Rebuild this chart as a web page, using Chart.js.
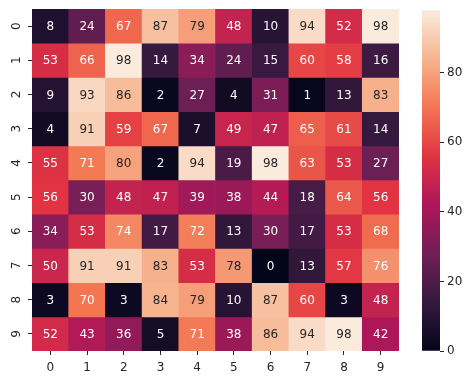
<!DOCTYPE html>
<html><head><meta charset="utf-8">
<script src="https://cdn.jsdelivr.net/npm/chart.js@4.4.1/dist/chart.umd.min.js"></script>
<style>
html,body{margin:0;padding:0;background:#fff;width:474px;height:383px;overflow:hidden;}
#c1{position:absolute;left:0;top:0;}
#c2{position:absolute;left:400px;top:0;}
</style></head><body>
<canvas id="c1" width="410" height="383"></canvas>
<canvas id="c2" width="74" height="383"></canvas>
<script>
const columns = ['0','1','2','3','4','5','6','7','8','9'];
const rows = ['0','1','2','3','4','5','6','7','8','9'];
const row0 = [8, 24, 67, 87, 79, 48, 10, 94, 52, 98];
const row1 = [53, 66, 98, 14, 34, 24, 15, 60, 58, 16];
const row2 = [9, 93, 86, 2, 27, 4, 31, 1, 13, 83];
const row3 = [4, 91, 59, 67, 7, 49, 47, 65, 61, 14];
const row4 = [55, 71, 80, 2, 94, 19, 98, 63, 53, 27];
const row5 = [56, 30, 48, 47, 39, 38, 44, 18, 64, 56];
const row6 = [34, 53, 74, 17, 72, 13, 30, 17, 53, 68];
const row7 = [50, 91, 91, 83, 53, 78, 0, 13, 57, 76];
const row8 = [3, 70, 3, 84, 79, 10, 87, 60, 3, 48];
const row9 = [52, 43, 36, 5, 71, 38, 86, 94, 98, 42];
const values = [row0,row1,row2,row3,row4,row5,row6,row7,row8,row9];
const colorbarTicks = [0, 20, 40, 60, 80];

const vmin = Math.min(...values.flat());
const vmax = Math.max(...values.flat());

// rocket colormap approximation
const stops = [
  [0, [3,5,26]], [1/7, [53,25,62]], [2/7, [112,31,87]], [3/7, [173,23,89]],
  [4/7, [225,51,66]], [5/7, [243,118,81]], [6/7, [246,180,143]], [1, [250,235,221]]
];
function cmapRGB(t){
  t = Math.max(0, Math.min(1, t));
  for (let i=1;i<stops.length;i++){
    if (t <= stops[i][0]){
      const [t0,c0] = stops[i-1], [t1,c1] = stops[i];
      const f = (t-t0)/(t1-t0);
      return c0.map((v,k)=>Math.round(v + (c1[k]-v)*f));
    }
  }
  return stops[stops.length-1][1];
}
function cmap(v){ const c = cmapRGB((v-vmin)/(vmax-vmin)); return `rgb(${c[0]},${c[1]},${c[2]})`; }
function lum(v){
  const c = cmapRGB((v-vmin)/(vmax-vmin)).map(x=>{x/=255; return x<=0.03928? x/12.92 : Math.pow((x+0.055)/1.055,2.4);});
  return 0.2126*c[0]+0.7152*c[1]+0.0722*c[2];
}

const FONT = 'DejaVu Sans';
const TXT = '#262626';

const datasets = rows.map((r, ri) => ({
  label: 'row ' + r,
  data: columns.map(() => [ri, ri+1]),
  backgroundColor: values[ri].map(cmap),
  borderWidth: 0,
  grouped: false,
  barPercentage: 1,
  categoryPercentage: 1
}));

const annot = {
  id: 'annot',
  afterDatasetsDraw(chart){
    const ctx = chart.ctx;
    ctx.save();
    ctx.font = `12px "${FONT}"`;
    ctx.textAlign = 'center';
    ctx.textBaseline = 'middle';
    rows.forEach((r, ri) => {
      const meta = chart.getDatasetMeta(ri);
      meta.data.forEach((el, ci) => {
        const v = values[ri][ci];
        ctx.fillStyle = lum(v) > 0.408 ? TXT : '#ffffff';
        ctx.fillText(String(v), el.x, (el.y + el.base)/2 + 1);
      });
    });
    // rotated y tick labels
    const ys = chart.scales.y;
    ctx.fillStyle = TXT;
    ctx.textBaseline = 'alphabetic';
    rows.forEach((r, ri) => {
      const y = ys.getPixelForValue(ri + 0.5);
      ctx.save();
      ctx.translate(20, y);
      ctx.rotate(-Math.PI/2);
      ctx.fillText(r, 0, 0);
      ctx.restore();
    });
    ctx.restore();
  }
};

new Chart(document.getElementById('c1'), {
  type: 'bar',
  data: { labels: columns, datasets },
  options: {
    responsive: false, animation: false, devicePixelRatio: 1,
    layout: { padding: { top: 9, right: 11, left: 0, bottom: 0 } },
    plugins: { legend: { display: false }, tooltip: { enabled: false } },
    scales: {
      x: {
        type: 'category',
        grid: { offset: false, drawOnChartArea: false, drawTicks: true, tickLength: 4, color: TXT, lineWidth: 1 },
        border: { display: false },
        ticks: { color: TXT, font: { family: FONT, size: 12 }, padding: 6, maxRotation: 0 },
        afterFit(s){ s.height = 32; }
      },
      y: {
        type: 'linear', min: 0, max: 10, reverse: true,
        afterBuildTicks(s){ s.ticks = rows.map((r,i)=>({ value: i + 0.5 })); },
        grid: { drawOnChartArea: false, drawTicks: true, tickLength: 4, color: TXT, lineWidth: 1 },
        border: { display: false },
        ticks: { display: false },
        afterFit(s){ s.width = 32; }
      }
    }
  },
  plugins: [annot]
});

// colorbar
new Chart(document.getElementById('c2'), {
  type: 'bar',
  data: { labels: [''], datasets: [{
    data: [[vmin, vmax]],
    borderWidth: 0,
    barPercentage: 1, categoryPercentage: 1,
    backgroundColor(ctx){
      const ca = ctx.chart.chartArea;
      if (!ca) return '#000';
      const g = ctx.chart.ctx.createLinearGradient(0, ca.bottom, 0, ca.top);
      for (let i=0;i<=40;i++){ const t=i/40; const c=cmapRGB(t); g.addColorStop(t, `rgb(${c[0]},${c[1]},${c[2]})`); }
      return g;
    }
  }]},
  options: {
    responsive: false, animation: false, devicePixelRatio: 1,
    layout: { padding: { top: 9, left: 22, bottom: 32, right: 0 } },
    plugins: { legend: { display: false }, tooltip: { enabled: false } },
    scales: {
      x: { display: false },
      y: {
        position: 'right', min: vmin, max: vmax,
        afterBuildTicks(s){ s.ticks = colorbarTicks.map(v=>({ value: v })); },
        grid: { drawOnChartArea: false, drawTicks: true, tickLength: 4, color: TXT },
        border: { display: false },
        ticks: { color: TXT, font: { family: FONT, size: 12 }, padding: 3 },
        afterFit(s){ s.width = 34; }
      }
    }
  }
});
</script>
</body></html>
